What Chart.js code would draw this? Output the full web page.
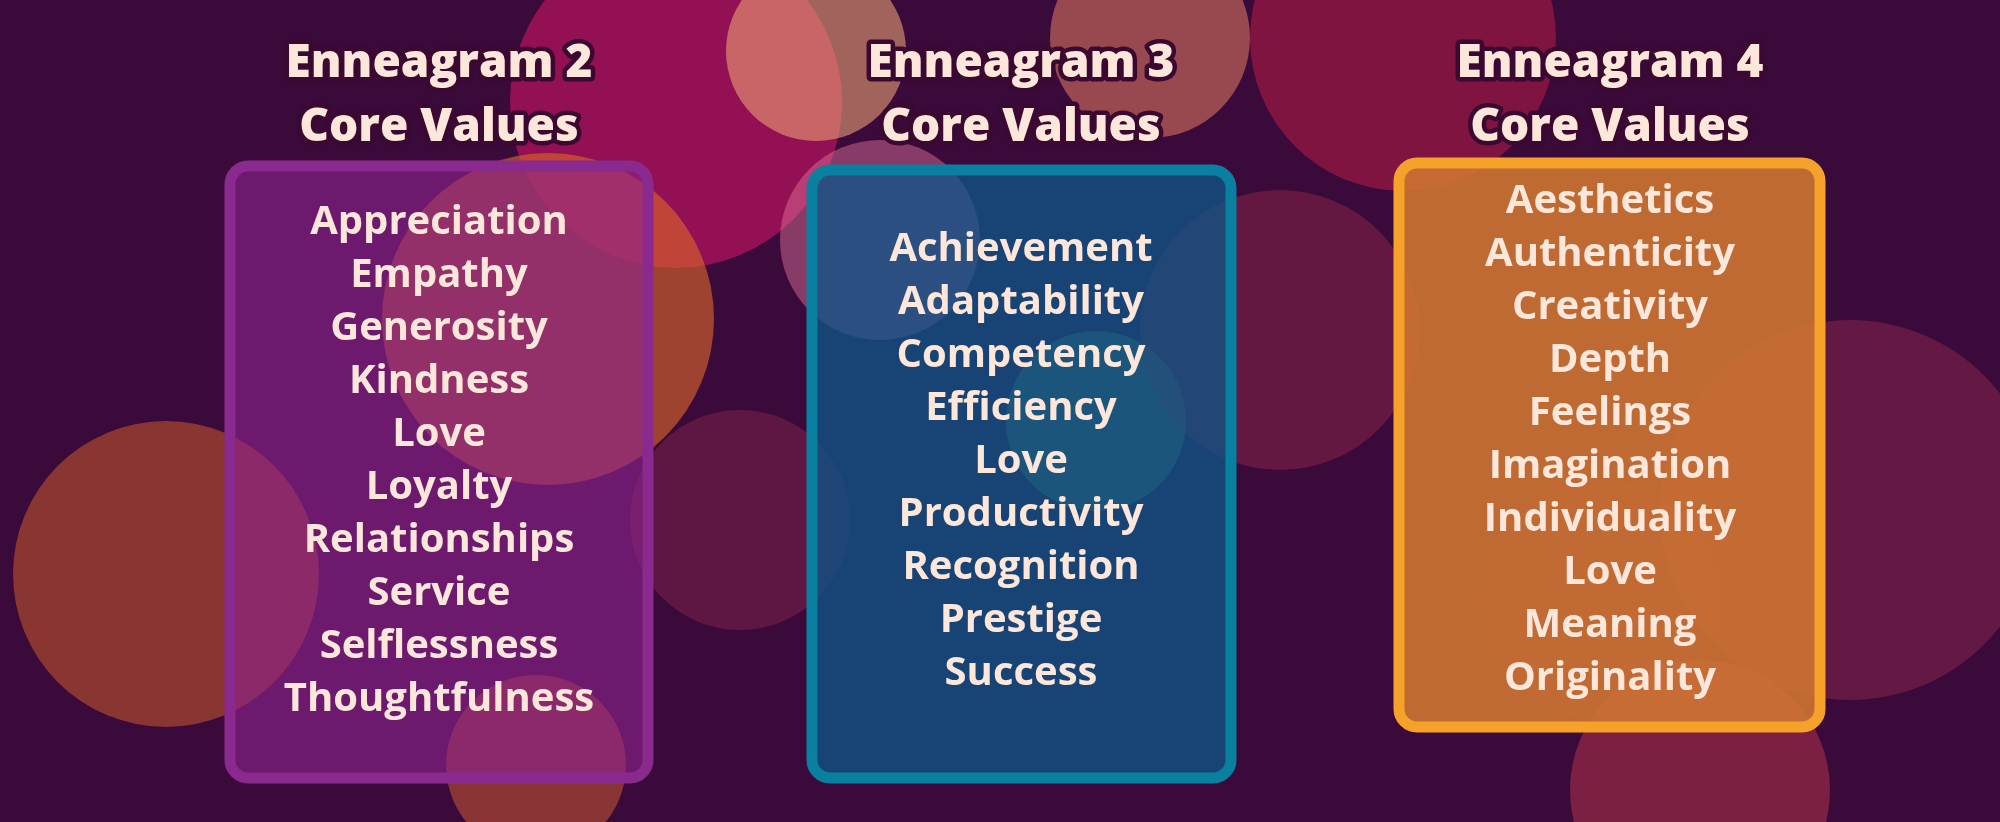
<!DOCTYPE html>
<html><head><meta charset="utf-8">
<script src="https://cdn.jsdelivr.net/npm/chart.js@4.4.0/dist/chart.umd.min.js"></script>
<style>html,body{margin:0;padding:0;background:#3a0a3a;overflow:hidden}</style>
</head><body>
<canvas id="c" width="2000" height="822"></canvas>
<script>
const titles = ["Enneagram 2", "Enneagram 3", "Enneagram 4"];
const subtitle = "Core Values";
const values2 = ["Appreciation","Empathy","Generosity","Kindness","Love","Loyalty","Relationships","Service","Selflessness","Thoughtfulness"];
const values3 = ["Achievement","Adaptability","Competency","Efficiency","Love","Productivity","Recognition","Prestige","Success"];
const values4 = ["Aesthetics","Authenticity","Creativity","Depth","Feelings","Imagination","Individuality","Love","Meaning","Originality"];
// background bokeh lights
const bokehX = [676,548,816,1150,1403,166,536,1850,1700,1096,880,1280,1600,740];
const bokehY = [102,319,51,38,38,574,765,510,790,421,240,330,600,520];
const bokehR = [166,166,90,100,153,153,90,190,130,90,100,140,120,110];
const bokehC = ["rgba(205,20,100,0.6)","rgba(225,105,40,0.6)","rgba(245,175,120,0.55)","rgba(245,135,100,0.5)","rgba(195,30,70,0.5)","rgba(215,95,40,0.5)","rgba(215,95,50,0.5)","rgba(150,45,80,0.45)","rgba(205,60,80,0.45)","rgba(95,165,120,0.5)","rgba(235,120,160,0.45)","rgba(150,40,75,0.45)","rgba(125,30,70,0.4)","rgba(150,40,80,0.4)"];

const boxes = [
 {x:230,y:166,w:418,h:612,fill:"rgba(140,35,140,0.62)",stroke:"#8a2a8e",vals:values2,y0:223,tx:439,ty:[64,128]},
 {x:812,y:170,w:419,h:608,fill:"rgba(15,85,135,0.78)",stroke:"#0a80a0",vals:values3,y0:250,tx:1021,ty:[64,128]},
 {x:1399,y:163,w:421,h:564,fill:"rgba(210,120,50,0.88)",stroke:"#f6a22a",vals:values4,y0:202,tx:1610,ty:[64,128]}
];
function rr(ctx,x,y,w,h,r){ctx.beginPath();ctx.moveTo(x+r,y);ctx.arcTo(x+w,y,x+w,y+h,r);ctx.arcTo(x+w,y+h,x,y+h,r);ctx.arcTo(x,y+h,x,y,r);ctx.arcTo(x,y,x+w,y,r);ctx.closePath();}
const overlay = {
 id:'overlay',
 afterDatasetsDraw(chart){
  const ctx=chart.ctx;
  ctx.save();
  boxes.forEach((b,i)=>{
   rr(ctx,b.x,b.y,b.w,b.h,18); ctx.fillStyle=b.fill; ctx.fill();
   ctx.lineWidth=11; ctx.strokeStyle=b.stroke; ctx.stroke();
   ctx.textAlign='center'; ctx.textBaseline='middle';
   ctx.font='bold 40px "Open Sans", sans-serif';
   ctx.fillStyle='#fde6da';
   b.vals.forEach((v,j)=>ctx.fillText(v, b.tx, b.y0+j*53));
   ctx.font='800 46px "Open Sans", sans-serif';
   ctx.lineJoin='round'; ctx.lineWidth=9; ctx.strokeStyle='#3a0830';
   [titles[i],subtitle].forEach((t,k)=>{
     ctx.strokeText(t,b.tx,b.ty[k]); ctx.fillStyle='#fde6da'; ctx.fillText(t,b.tx,b.ty[k]);
   });
  });
  ctx.restore();
 }
};
new Chart(document.getElementById('c'),{
 type:'bubble',
 data:{datasets:[{data:bokehX.map((x,i)=>({x:x,y:bokehY[i],r:bokehR[i]})),backgroundColor:bokehC,borderWidth:0}]},
 options:{responsive:false,devicePixelRatio:1,animation:false,clip:false,
  layout:{padding:0,autoPadding:false},
  plugins:{legend:{display:false},tooltip:{enabled:false}},
  scales:{x:{type:'linear',min:0,max:2000,display:false},y:{type:'linear',min:0,max:822,reverse:true,display:false}}},
 plugins:[overlay]
});
</script>
</body></html>
